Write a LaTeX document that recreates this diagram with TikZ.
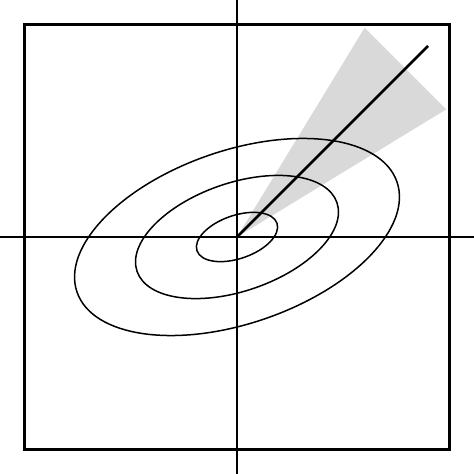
\documentclass[tikz,border=0pt]{standalone}
\definecolor{wedgegray}{HTML}{D9D9D9}
\tikzset{
  axisline/.style={line width=1.3pt, black},
  frameline/.style={line width=2.1pt, black},
  contour/.style={line width=1.5pt, black},
  vecline/.style={line width=2.7pt, black},
  wedge/.style={fill=wedgegray, draw=none}
}
\begin{document}
\begin{tikzpicture}[x=1pt,y=1pt]
\useasboundingbox (-237,-237) rectangle (237,237);
\coordinate (O) at (0,0);
\coordinate (W1) at (127.6,209.2);
\coordinate (W2) at (209.2,127.6);
\coordinate (V) at (191,191);
\fill[wedge] (O) -- (W1) -- (W2) -- cycle;
\begin{scope}[rotate=19]
\draw[contour] (O) ellipse [x radius=169.2, y radius=86.4];
\draw[contour] (O) ellipse [x radius=105.7, y radius=54];
\draw[contour] (O) ellipse [x radius=42.3, y radius=21.6];
\end{scope}
\coordinate (XL) at (-237,0);
\coordinate (XR) at (237,0);
\coordinate (YB) at (0,-237);
\coordinate (YT) at (0,237);
\draw[axisline] (XL) -- (XR);
\draw[axisline] (YB) -- (YT);
\draw[frameline] (-212.5,-212.5) rectangle (212.5,212.5);
\draw[vecline] (O) -- (V);
\end{tikzpicture}
\end{document}
